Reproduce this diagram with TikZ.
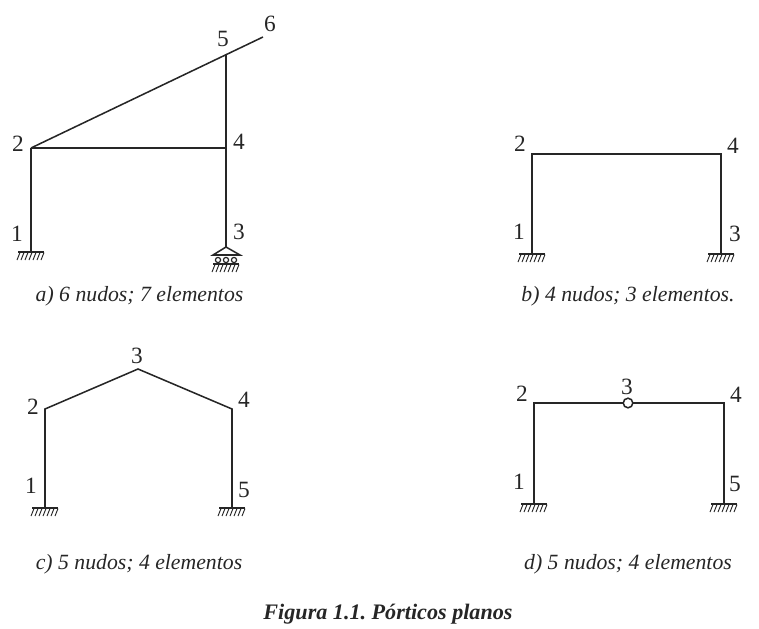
\documentclass[tikz,border=0pt]{standalone}
\usepackage{fontspec}
\setmainfont{Liberation Serif}
\usepackage{tikz}
\usetikzlibrary{calc}
\tikzstyle{bar}=[line width=1.15pt, black!85]
\tikzstyle{thin bar}=[line width=.9pt, black!85]
\tikzstyle{nudo}=[font=\fontsize{17.5}{20}\selectfont, black!85, inner sep=0pt]
\tikzstyle{caption}=[font=\fontsize{16.3}{18}\selectfont\itshape, black!85, inner sep=0pt]
\newcommand{\groundW}{13}
\newcommand{\groundat}[1]{
\draw[thin bar] ($(#1)+(-\groundW,0)$) -- ($(#1)+(\groundW,0)$);
\foreach \x in {-11,-7,...,13} {
	\draw[line width=.7pt, black!85] ($(#1)+(\x,.5)$) -- ($(#1)+(\x-3,8)$);
}
}
\begin{document}
\begin{tikzpicture}[x=.75pt,y=-.75pt]
\useasboundingbox (0,0) rectangle (759,628);
% a)
\coordinate (a1) at (31,252);
\coordinate (a2) at (31,148);
\coordinate (a3) at (226,247);
\coordinate (a4) at (226,148);
\coordinate (a5) at (226,55);
\coordinate (a6) at (263,37);
\coordinate (a3l) at (213,255);
\coordinate (a3r) at (240,255);
\coordinate (a3g) at (226,264);
\draw[bar] (a1) -- (a2);
\draw[bar] (a2) -- (a4);
\draw[bar] (a2) -- (a6);
\draw[bar] (a3) -- (a4);
\draw[bar] (a4) -- (a5);
\groundat{a1}
\groundat{a3g}
\draw[bar] (a3l) -- (a3) -- (a3r) -- cycle;
\foreach \x in {-8,0,8} {
	\draw[thin bar, fill=white] ($(a3g)+(\x,-4)$) circle (2.6);
}
\node[nudo] (la1) at (17,234) {1};
\node[nudo] (la2) at (18,144) {2};
\node[nudo] (la3) at (239,232) {3};
\node[nudo] (la4) at (239,142) {4};
\node[nudo] (la5) at (223,39) {5};
\node[nudo] (la6) at (270,24) {6};
\node[caption] (capa) at (139.5,296.5) {a) 6 nudos; 7 elementos};
% b)
\coordinate (b1) at (532,254);
\coordinate (b2) at (532,154);
\coordinate (b3) at (721,254);
\coordinate (b4) at (721,154);
\draw[bar] (b1) -- (b2) -- (b4) -- (b3);
\groundat{b1}
\groundat{b3}
\node[nudo] (lb1) at (519,232) {1};
\node[nudo] (lb2) at (520,144) {2};
\node[nudo] (lb3) at (735,234) {3};
\node[nudo] (lb4) at (733,146) {4};
\node[caption] (capb) at (628,296.5) {b) 4 nudos; 3 elementos.};
% c)
\coordinate (c1) at (45,508);
\coordinate (c2) at (45,409);
\coordinate (c3) at (138,369);
\coordinate (c4) at (232,409);
\coordinate (c5) at (232,508);
\draw[bar] (c1) -- (c2) -- (c3) -- (c4) -- (c5);
\groundat{c1}
\groundat{c5}
\node[nudo] (lc1) at (31,486) {1};
\node[nudo] (lc2) at (33,407) {2};
\node[nudo] (lc3) at (137,356) {3};
\node[nudo] (lc4) at (244,400) {4};
\node[nudo] (lc5) at (244,490) {5};
\node[caption] (capc) at (139,564.5) {c) 5 nudos; 4 elementos};
% d)
\coordinate (d1) at (534,504);
\coordinate (d2) at (534,403);
\coordinate (d3) at (628,403);
\coordinate (d4) at (724,403);
\coordinate (d5) at (724,504);
\draw[bar] (d1) -- (d2) -- (d4) -- (d5);
\groundat{d1}
\groundat{d5}
\draw[bar, fill=white] (d3) circle (4.8);
\node[nudo] (ld1) at (519,482) {1};
\node[nudo] (ld2) at (522,394) {2};
\node[nudo] (ld3) at (627,387) {3};
\node[nudo] (ld4) at (736,395) {4};
\node[nudo] (ld5) at (735,484) {5};
\node[caption] (capd) at (628,564.5) {d) 5 nudos; 4 elementos};
\node[caption, font=\fontsize{16.6}{18}\selectfont\bfseries\itshape] (capf) at (388,614.5) {Figura 1.1.\ Pórticos planos};
\end{tikzpicture}
\end{document}
